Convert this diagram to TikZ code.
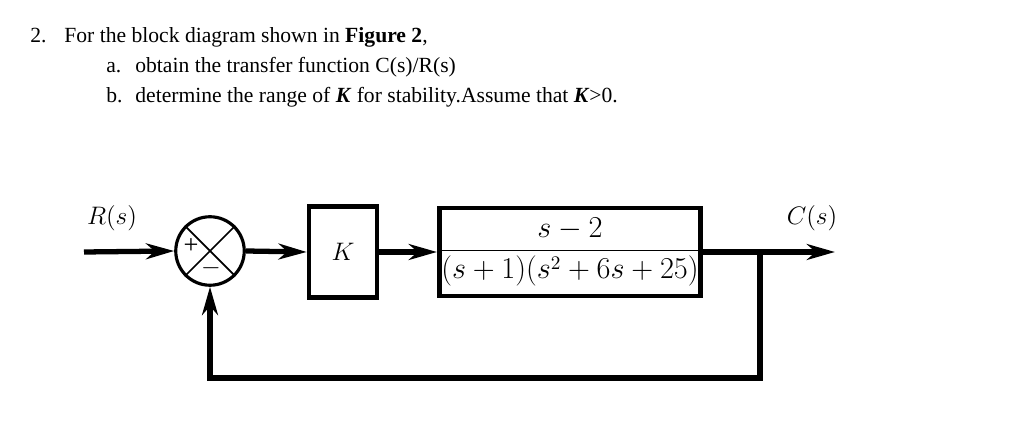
\documentclass[tikz,border=0pt]{standalone}
\usepackage{amsmath}
\usepackage{fontspec}
\setmainfont{Liberation Serif}
\usetikzlibrary{arrows.meta}
\begin{document}
\begin{tikzpicture}[x=0.02cm,y=-0.02cm,
  txt/.style={anchor=base west,inner sep=0,font=\fontsize{12.3pt}{14pt}\selectfont},
  blk/.style={draw,line width=2.6pt,inner sep=0},
  sig/.style={line width=3pt,-{Stealth[length=16pt,width=9pt,inset=5pt]}},
  wire/.style={line width=3pt},
  lbl/.style={font=\fontsize{15pt}{17pt}\selectfont}]
\useasboundingbox (0,0) rectangle (1013,421);
\node[txt] (t0) at (30,43) {2.};
\node[txt] (t1) at (64,43) {For the block diagram shown in \textbf{Figure 2},};
\node[txt] (t2) at (106,73) {a.};
\node[txt] (t3) at (135,73) {obtain the transfer function C(s)/R(s)};
\node[txt] (t4) at (106,103) {b.};
\node[txt] (t5) at (135,103) {determine the range of \textbf{\textit{K}} for stability.Assume that \textbf{\textit{K}}>0.};
% sum
\node[draw,circle,line width=1.8pt,inner sep=0,minimum size=1.37cm] (sum) at (210,251) {};
\draw[line width=1pt] (sum.north west) -- (sum.south east) (sum.north east) -- (sum.south west);
\node[font=\fontsize{15pt}{15pt}\selectfont,inner sep=0] (plus) at (191,246) {+};
\node[font=\fontsize{15pt}{15pt}\selectfont,inner sep=0] (minus) at (211,268) {$-$};
\node[blk,minimum width=1.36cm,minimum height=1.82cm,lbl] (k) at (343,252) {$K$};
\node[blk,minimum width=5.2cm,minimum height=1.76cm,font=\fontsize{16pt}{18pt}\selectfont] (g) at (570,252) {$\dfrac{s-2}{(s+1)(s^2+6s+25)}$};
\coordinate (in) at (84,252);
\coordinate (out) at (835,252);
\coordinate (br) at (760,252);
\coordinate (c1) at (760,378);
\coordinate (c2) at (210,378);
\draw[sig] (in) -- (sum.west);
\draw[sig] (sum.east) -- (k.west);
\draw[sig] (k.east) -- (g.west);
\draw[sig] (g.east) -- (out);
\draw[wire] (br) -- (c1) -- (c2) -- ++(0,-1.5);
\draw[sig] (c2) -- (sum.south);
\node[lbl] (R) at (112,218) {$R(s)$};
\node[lbl] (C) at (812,218) {$C(s)$};
\end{tikzpicture}
\end{document}
